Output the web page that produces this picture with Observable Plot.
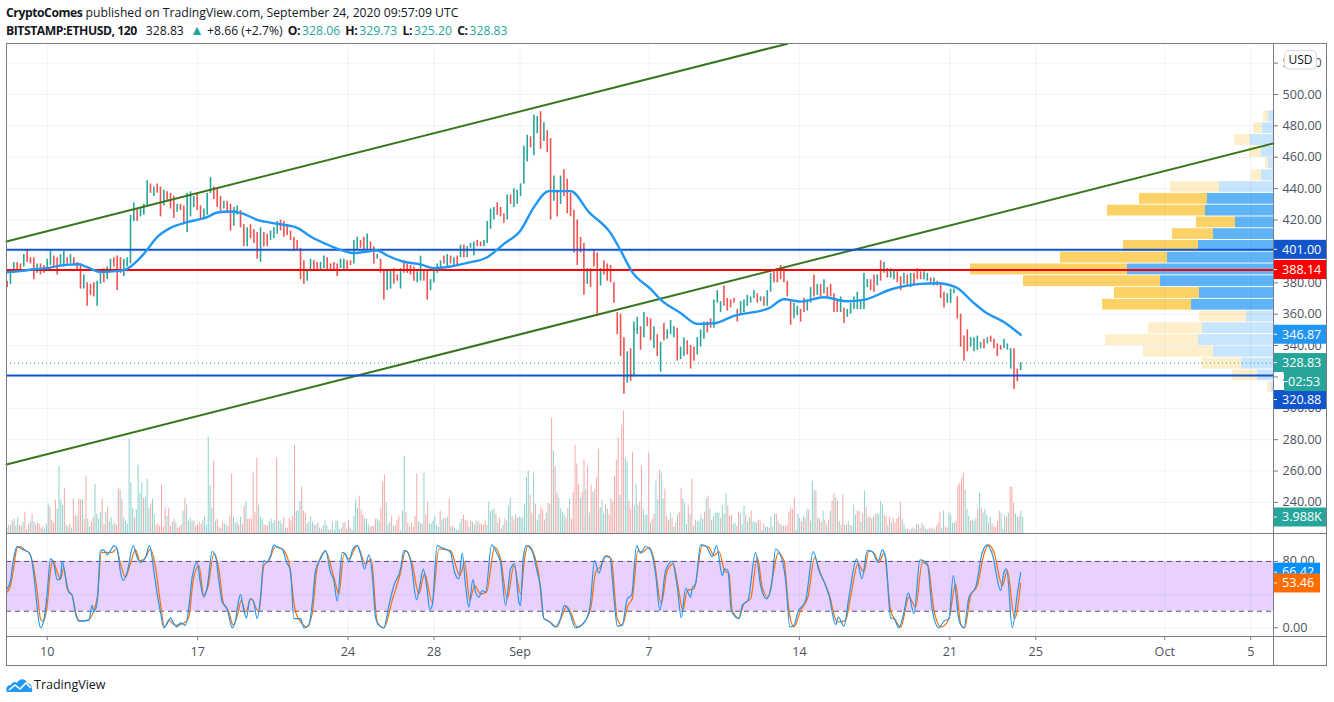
<!DOCTYPE html>
<html><head><meta charset="utf-8">
<script src="https://cdn.jsdelivr.net/npm/d3@7"></script>
<script src="https://cdn.jsdelivr.net/npm/@observablehq/plot@0.6"></script>
<style>
html,body{margin:0;background:#fff}
#page{position:relative;width:1334px;height:702px;overflow:hidden;font-family:"Open Sans",sans-serif;color:#131722}
#page svg{position:absolute;left:0;background:transparent}
.head{position:absolute;left:6px;font-size:12.2px;white-space:nowrap;line-height:16px}
.head b{font-weight:700;letter-spacing:-0.45px}
.teal{color:#26a69a}
.line{position:absolute;background:#787b86}
.lab{margin-left:2px}
.val{margin-left:2px}
</style></head><body><div id="page"></div>
<script>
// ---- time axis ----
const viewStart = "2020-08-08T02:34Z", viewEnd = "2020-10-06T01:26Z";
const dateTicks = ["2020-08-10","2020-08-17","2020-08-24","2020-08-28","2020-09-01","2020-09-07","2020-09-14","2020-09-21","2020-09-25","2020-10-01","2020-10-05"];
const dateLabels = ["10","17","24","28","Sep","7","14","21","25","Oct","5"];
// ---- price bars, read roughly every 3.7 hours ----
const barFirst = "2020-08-08T03:17Z", barStepHours = 3.723;
const barLow = [377,379,386,387,387,390,393,392,382,386,385,386,389,391,390,385,391,390,391,392,391,388,376,376,365,372,371,365,379,380,382,388,390,375,386,384,390,392,419,419,422,423,429,437,435,437,422,429,432,427,421,425,426,417,412,422,428,426,420,421,423,437,433,428,424,427,424,413,416,423,415,403,403,408,405,395,393,403,403,407,408,411,413,409,410,407,400,401,382,379,381,387,388,388,388,389,388,388,388,384,
389,388,388,391,392,401,402,401,401,400,392,395,386,369,375,376,379,381,376,386,386,385,381,380,381,381,369,375,380,386,388,392,390,392,390,391,396,396,396,402,397,403,403,403,405,414,420,423,422,418,420,430,428,430,435,443,457,466,461,475,465,470,463,420,432,422,430,435,424,422,399,391,399,372,379,377,390,360,378,385,381,380,367,347,333,309,316,317,320,347,337,345,352,343,338,333,323,343,344,347,345,330,
331,333,334,325,330,334,339,344,348,351,351,367,361,365,362,364,367,355,360,361,365,367,370,367,368,365,365,374,380,380,382,380,371,353,357,359,355,361,362,367,371,372,371,373,370,371,361,361,361,354,358,360,363,363,363,363,377,375,374,378,381,386,383,383,382,380,375,379,378,377,378,382,382,382,381,380,378,378,370,364,367,367,373,357,339,330,336,339,336,337,338,338,341,342,338,333,337,338,337,325,312,317,324];
const barHigh = [381,386,393,393,392,398,401,396,396,392,392,391,395,401,397,396,398,400,396,398,396,393,392,385,380,379,380,381,387,389,390,395,396,397,396,395,396,423,431,427,428,430,445,443,441,443,441,439,438,437,435,430,430,429,437,438,435,437,429,427,437,447,441,440,435,432,432,430,428,429,426,417,415,417,414,412,415,412,411,413,415,419,420,419,417,413,409,407,402,394,388,395,394,393,393,397,396,392,393,392,
395,395,394,394,407,409,407,409,411,406,403,398,395,388,388,388,389,385,389,394,392,391,390,387,397,388,388,382,389,392,394,397,398,397,396,397,404,404,403,405,406,407,406,407,419,427,428,431,428,424,436,436,440,439,443,467,474,473,487,486,489,482,477,472,448,439,448,452,446,437,426,420,409,405,389,389,401,399,389,394,392,391,380,361,360,345,336,338,355,358,352,361,358,357,352,347,342,354,350,356,352,351,
339,345,343,340,339,345,350,355,355,357,369,375,368,378,370,369,370,363,368,369,372,371,375,373,371,371,375,386,388,389,391,389,381,369,367,365,363,370,369,377,385,379,379,382,377,379,373,369,371,364,363,367,371,374,369,386,382,382,385,385,394,393,389,389,388,387,384,386,385,386,386,389,387,387,386,383,383,381,380,374,373,376,376,371,360,346,350,345,345,346,342,344,345,346,344,341,340,344,341,338,338,325,329];
const barDir = "rttrrtrrrtrrttrrttrtrrrtrrrttrttrrrttttrtttrtrrtrrrtrrtttrrtttrrrtrrttrrtrrrtrrtttrrrrrrrrttrrttrrrr"
 + "ttrrttrrtrrtrrttrrtrrrrttrrttttrtrtrtrtttrrttttrrrtrtttttrttrtrrtrtrrrrrrrtrrrtrrrrrrrtrttrtrrtrtrtttr"
 + "ttrrrtttrrtttrrrrrtttttrtrttrrrrrrttrrttrtrtrrrrtrtttttttrrtrtrttrrtrtrrrttrtrrrtttrrrrttttrtrrrrtttrrtt";
// ---- 50-period average: bar position and price ----
const maBar = [0,4,8,12,15,18,21.5,24,28,33,36,41,45,49,54,60,63,67,70,75,81,87,91,96,100,104,111,114,119,124,128,133,138,144,149,154,158,162.5,169,174.5,181,184,187.5,193,196,202,207,212,218,228.5,233,238,245,252,257,265,274,279,284.5,290,293,299.5,304];
const maPrice = [386.7,387.4,388.6,389.3,390.6,391.4,391.8,389.9,386.9,387.4,388.9,398.4,409.1,415,418.6,421.8,424.8,425.4,424.6,420.1,417.6,415,409.5,404.4,401,398.9,400.6,397.4,393.4,391.7,389.3,390.4,392.7,396.3,404.8,413.3,428.2,438.4,438.4,425,411.6,400.6,386.8,376.1,369.3,360.8,353.8,354.2,358.9,363.8,369.5,368,370.8,368.2,369.1,375.7,379.3,379.7,377.2,367,361.9,354.2,346.87];
// ---- drawn levels ----
const levelBlue = [401, 320.88], levelRed = [388.14], lastPrice = 328.83;
const trendUpperDate = [viewStart, "2020-09-13T10:48Z"], trendUpperPrice = [406.3, 532.4];
const trendLowerDate = [viewStart, viewEnd], trendLowerPrice = [264.2, 468.8];
const priceTicks = [520,500,480,460,440,420,400,380,360,340,320,300,280,260,240];
// ---- volume profile by price row ----
const profilePrice = [486,478.5,471,463.5,456,448.5,441,433.5,426,418.5,411,403.5,396,388.5,381,373.5,366,358.5,351,343.5,336,328.5,321,313.5];
const profileUp = [5,11,23,12,5,12,54,66,68,38,60,75,106,146,113,74,82,27,71,75,60,32,16,2];
const profileDown = [5,9,16,12,3,10,49,68,98,39,41,75,107,157,137,85,89,47,54,93,70,40,25,4];
const valueAreaLow = 362, valueAreaHigh = 437;
// ---- volume in twelfths of a thousand; sign is the bar direction ----
const volumeFirst = "2020-08-08T03:00Z", volumeLast = "2020-09-24T09:20Z", volumePerK = 12;
const volumeSigned = [16,-25,25,37,-43,22,46,-24,-20,34,-64,-12,-27,34,-58,36,-25,-31,-28,16,-19,13,28,88,-79,-40,-31,-100,73,202,100,85,-136,25,19,-28,16,-103,-55,52,-103,-100,103,-43,-172,43,19,-34,-49,148,58,43,64,-103,-27,64,-79,34,49,25,-31,-25,-136,130,-103,46,37,28,283,151,76,-46,70,205,121,151,-106,109,163,76,-88,103,58,-25,-28,-22,-145,-19,-73,52,-76,-22,34,-43,31,-16,-19,-25,67,-106,85,37,46,-37,37,-22,-25,-34,-28,37,52,25,289,145,76,-217,37,-43,-19,16,-34,28,25,-22,-52,-178,49,31,34,-25,49,-28,-82,94,-43,-43,-43,-181,-64,-226,85,49,43,-25,-25,-22,34,43,31,40,-226,37,37,28,-49,16,-16,-46,-37,-52,-265,67,67,97,-139,-67,-61,28,34,49,34,-25,25,-31,16,-13,22,37,22,-10,-10,34,10,37,37,10,-16,31,-34,-13,-40,16,-10,52,100,76,-112,-70,-55,43,43,28,-19,-22,-22,-43,43,37,-76,-154,-175,91,28,34,-52,22,-22,-40,-52,7,67,232,-64,-31,19,-31,-19,-52,-178,34,31,-28,181,-55,-94,28,28,37,52,25,19,-67,40,46,-43,49,-103,19,-22,16,10,10,31,43,-55,-40,-37,19,-37,34,25,-37,34,-28,-28,-25,-37,25,94,64,70,73,-58,31,-46,-13,25,-43,37,82,106,-52,-40,55,-46,49,46,
49,88,169,187,-115,-61,181,-88,40,58,-79,-70,-40,61,-91,88,-346,247,-202,-121,106,73,64,55,-46,-76,103,-43,-124,-265,-208,-148,106,-124,-220,133,-202,61,-145,124,-133,-166,-253,76,100,61,-85,73,-55,-103,-94,-172,-220,-286,115,-325,-367,223,214,-97,-73,-244,82,148,85,-94,-202,73,55,55,-241,31,-43,-58,157,100,-190,181,103,-133,-52,-40,61,-46,19,-31,55,-64,-136,103,91,28,-82,58,-163,22,-40,34,37,55,43,-64,103,-112,73,-40,49,61,61,61,-46,82,58,118,-82,-52,-55,28,31,-22,-64,58,25,82,-55,34,49,-67,34,34,31,-40,-37,10,-28,19,19,-16,49,19,58,-58,37,-28,22,-22,-22,-25,-64,-76,-73,-106,10,58,46,-34,52,-46,73,-70,37,157,130,-127,46,-43,-34,67,-40,25,-40,67,-97,-118,106,-97,37,-25,-115,25,-25,37,-25,22,85,55,-67,-67,34,-58,127,-79,49,-49,-43,49,-58,58,58,97,85,-55,-52,25,-49,31,-46,-31,-43,-49,-94,43,25,13,-13,-10,13,-16,13,28,-25,-16,31,-22,13,10,-16,13,-16,10,-22,-31,-64,16,67,-19,-16,61,55,31,31,-37,-145,-151,-166,-181,130,73,52,-37,40,37,46,-73,121,-76,61,73,55,-31,49,-28,-19,-19,-37,-67,61,13,55,-49,61,-139,-139,-91,58,49,-52,67,48];
// ---- stochastic RSI: bar position and value ----
const stochKBar = [0,1,2,3,4,5,6.5,7.5,8.5,9.2,10,11,12,13,14,15,16,16.5,17.5,18.5,19.5,20.5,21.5,24.5,25.5,26,27,28,29,30,31,32,33,34,34.8,36,37.8,39,40,41.5,42.7,44,45,46,47,48,49,50,51,52,53.5,54.5,55.5,57,58,59,60,61.5,62.5,63.5,64.5,66,67.5,68.5,69.2,70,71,71.8,72.8,73.8,75,76,77,78,79,80,81,82.5,83.8,85,86,88,89,90.5,91.5,92.5,94,95.5,97,98,99,100.5,101.5,102.5,103.5,105,106,107.2,108.5,109.5,110.5,111.5,113,114.5,116,118,119,120,121.2,122.8,123.8,124.8,125.8,126.8,127.5,129,130,131.5,133,134.2,135.5,136.5,137.5,138.5,139.7,140.5,141.5,142.5,143.5,145.3,147,148,149.5,151,152.2,153.5,
154,154.8,155.8,157.5,159,160,161,162.5,164.5,165.8,167.2,168.5,170.5,173.5,174.8,176.2,177.5,179.2,180.8,182,183,184.5,186,187.3,188.8,190,191.5,192.8,194.5,195.8,197.5,199.5,201,202.2,203.5,205,205.5,206.5,208,209.5,211.5,212.8,214.5,215.2,216.2,217.2,219.5,220.5,222.2,224.5,226,227.8,229.2,230.5,232.5,233.5,234.8,236,237.2,239.5,241.8,243.5,245.5,246.5,248.5,249.3,251,252.5,254.8,256.4,258,259.5,261.2,262.5,263.5,265,266,267.5,269,270.3,272,273.8,276,277.5,279.5,281,282.5,283.8,285.5,287,288.5,290.5,292.5,294,295.5,298,299,299.8,301.5,303,304];
const stochK = [47,57,85,98,96,94,91,79,45,17,0,9,41,83,77,58,59,80,61,43,39,17,8,9,27,19,31,93,94,88,93,99,95,67,57,67,99,85,79,85,99,69,41,19,0,5,12,5,1,6,3,25,61,79,53,37,49,92,87,57,31,23,0,9,28,40,21,12,35,33,11,37,81,79,87,100,97,95,79,69,11,11,0,3,29,69,83,93,67,57,32,91,89,79,93,99,89,71,88,65,13,3,0,27,51,71,93,92,77,34,51,71,51,22,27,99,97,95,91,67,59,90,51,25,58,43,37,45,43,100,89,79,27,71,77,31,
27,85,99,92,67,49,11,8,1,9,27,21,0,9,25,81,66,86,85,37,2,3,35,39,99,90,98,95,65,21,69,80,49,12,48,37,48,53,100,99,86,99,63,71,69,21,11,27,33,91,51,35,49,95,81,57,1,3,19,33,92,69,51,39,4,13,2,37,83,59,93,92,79,94,85,12,11,0,19,42,17,82,77,21,0,8,11,63,9,0,37,49,91,100,89,45,67,71,0,41,66.42];
const stochDBar = [0,1,2,3,4,5.5,6.5,7.5,9,10,10.8,12,13,13.8,15,16,17,18,19.5,20.8,22,24.5,26,27.2,28.2,30,31.5,32.8,34,35.5,36.8,38.5,39.8,41.2,43,44.5,46,47.2,48.5,50.5,53.2,54.5,55.8,57.5,59,60.2,62,63.5,64.8,66.5,67.8,69.2,70.2,71.5,73.2,75.5,77,78.5,80.5,82.5,84.5,86.5,88.5,89.8,91.5,93,95.5,98,99.5,101,102.5,105,107.5,109.2,111,113,115.5,118,119.5,121.5,123.5,125.2,127.5,129.5,133,135.8,137.2,138.8,140.2,142,143.8,146.2,148,150,152,
154,155.2,156.2,158,159.5,161,162.5,164.8,166.5,167.8,169,171,173.8,175.2,176.5,177.8,179.8,181.2,183,184.5,186.2,187.5,189.2,190.5,192.5,194,196.2,198,199.8,201.2,202.7,204,206,208.5,210.5,212,213.5,215.2,216.5,217.5,219.5,221,223,225,226.5,228.2,229.8,231.2,233,234.5,236,238,240.2,242.2,244,246.5,249,251.5,253,255.2,257,258.5,260.2,261.5,263,265,266.5,268,270.5,272.5,274.5,276.2,278,280.2,282.5,284.5,286,287.2,289,291,293,294.5,296,298.5,300,302.2,304];
const stochD = [43,51,73,97,98,93,91,81,45,11,8,27,69,81,67,59,73,47,39,15,8,10,21,41,91,91,91,95,77,61,75,94,81,83,95,73,29,1,9,3,6,13,57,75,39,49,89,71,31,19,3,17,33,19,35,19,75,81,98,95,79,19,5,1,17,73,92,61,41,89,83,99,77,83,7,0,33,67,93,77,41,65,31,95,93,63,79,33,51,41,43,97,83,35,75,
41,83,99,89,63,11,8,1,15,26,19,1,11,27,67,73,87,83,11,3,27,35,93,91,97,83,29,69,77,51,21,45,47,99,97,87,92,69,65,21,12,29,35,85,49,37,65,90,81,21,1,21,37,85,65,41,7,9,37,77,67,93,89,79,90,21,9,1,37,25,79,75,21,1,11,53,5,0,39,51,89,100,91,51,69,11,53.46];
const stochTicks = [0,80], stochGrid = [0,40,80], stochBand = [20,80];

// ---- value tags on the right scale ----
const priceTags = [
 {value:401, dy:0, text:"401.00", fill:"#1155cc"},
 {value:388.14, dy:0, text:"388.14", fill:"#ff0000"},
 {value:346.87, dy:0, text:"346.87", fill:"#2196f3"},
 {value:320.88, dy:24.5, text:"320.88", fill:"#1155cc"},
 {value:328.83, dy:0, text:"328.83", fill:"#26a69a"}
];
const stochTags = [{value:66.42,text:"66.42",fill:"#0091ff"},{value:53.46,text:"53.46",fill:"#ff6d00"}];
const volumeTag = {value:48, text:"3.988K", fill:"#26a69a"};

const FONT = '"Open Sans",sans-serif', AXIS_SIZE = 12.6;
const page = document.getElementById("page");
const d = s => new Date(s);
const barTime = b => new Date(+d(barFirst) + b * barStepHours * 3600e3);
const xDomain = [d(viewStart), d(viewEnd)];
const GRID = {stroke:"#4060c0", strokeOpacity:0.08};
const PANEW = {width:1334, marginLeft:6, marginRight:61, marginTop:0, style:{fontFamily:FONT, fontSize:AXIS_SIZE+"px", background:"transparent", color:"#4c525e"}};

const bars = barLow.map((low,i)=>({date:barTime(i), low, high:barHigh[i], up:barDir[i]!=="r"}));
const ma = maBar.map((b,i)=>({date:barTime(b), price:maPrice[i]}));
const trendU = trendUpperDate.map((t,i)=>({date:d(t), price:trendUpperPrice[i]}));
const trendL = trendLowerDate.map((t,i)=>({date:d(t), price:trendLowerPrice[i]}));
const vStep = (+d(volumeLast)-+d(volumeFirst))/(volumeSigned.length-1);
const vols = volumeSigned.map((v,i)=>({date:new Date(+d(volumeFirst)+i*vStep), v:Math.abs(v), up:v>0}));
const prof = profilePrice.map((p,i)=>({p, up:profileUp[i], tot:profileUp[i]+profileDown[i], main:p>valueAreaLow&&p<valueAreaHigh}));
const priceDomain = [220.2,532.5];
const MAINH = 490;

function place(svg, top){ svg.style.top = top+"px"; page.appendChild(svg); return svg; }
function addTag(svg, y, t, w, x0){
  const g = d3.select(svg).append("g");
  g.append("rect").attr("x",x0).attr("y",y-9.5).attr("width",w).attr("height",19).attr("fill",t.fill);
  g.append("line").attr("x1",x0).attr("x2",x0+4).attr("y1",y).attr("y2",y).attr("stroke","#fff");
  g.append("text").attr("x",t.tx||1282).attr("y",y).attr("dy","0.34em").attr("fill","#fff").attr("text-anchor","start")
    .attr("font-family",FONT).attr("font-size",AXIS_SIZE).text(t.text);
}

// volume profile
place(Plot.plot({...PANEW, height:MAINH, marginBottom:0,
  x:{domain:[1267,0], axis:null}, y:{domain:priceDomain, axis:null},
  marks:[
    Plot.rectX(prof,{filter:d=>d.main, x1:d=>d.up, x2:d=>d.tot, y1:d=>d.p-3.45, y2:d=>d.p+3.45, fill:"#fbc02d", fillOpacity:.72}),
    Plot.rectX(prof,{filter:d=>d.main, x1:0, x2:d=>d.up, y1:d=>d.p-3.45, y2:d=>d.p+3.45, fill:"#2196f3", fillOpacity:.72}),
    Plot.rectX(prof,{filter:d=>!d.main, x1:d=>d.up, x2:d=>d.tot, y1:d=>d.p-3.45, y2:d=>d.p+3.45, fill:"#fbc02d", fillOpacity:.25}),
    Plot.rectX(prof,{filter:d=>!d.main, x1:0, x2:d=>d.up, y1:d=>d.p-3.45, y2:d=>d.p+3.45, fill:"#2196f3", fillOpacity:.25})
  ]}), 43);

// volume
const volPlot = Plot.plot({...PANEW, height:MAINH, marginBottom:0,
  x:{type:"utc", domain:xDomain, axis:null}, y:{domain:[0,MAINH/4*volumePerK], axis:null},
  marks:[
    Plot.ruleX(vols,{filter:d=>d.up, x:"date", y1:0, y2:"v", stroke:"#26a69a", strokeOpacity:.5, strokeWidth:1}),
    Plot.ruleX(vols,{filter:d=>!d.up, x:"date", y1:0, y2:"v", stroke:"#ef5350", strokeOpacity:.5, strokeWidth:1})
  ]});
place(volPlot, 43);

// price pane
const mainPlot = Plot.plot({...PANEW, height:MAINH, marginBottom:0,
  x:{type:"utc", domain:xDomain, axis:null}, y:{domain:priceDomain},
  marks:[
    Plot.gridY(priceTicks,GRID),
    Plot.gridX(dateTicks.map(d),GRID),
    Plot.axisY(priceTicks,{anchor:"right", label:null, tickSize:4, tickPadding:5, tickFormat:v=>v.toFixed(2), stroke:"#787b86", fill:"#4c525e"}),
    Plot.ruleY([lastPrice],{stroke:"#26a69a", strokeDasharray:"1,3", strokeWidth:1}),
    Plot.ruleX(bars,{filter:d=>d.up, x:"date", y1:"low", y2:"high", stroke:"#26a69a", strokeWidth:1.6}),
    Plot.ruleX(bars,{filter:d=>!d.up, x:"date", y1:"low", y2:"high", stroke:"#ef5350", strokeWidth:1.6}),
    Plot.line(trendU,{x:"date", y:"price", stroke:"#38761d", strokeWidth:2}),
    Plot.line(trendL,{x:"date", y:"price", stroke:"#38761d", strokeWidth:2}),
    Plot.ruleY(levelBlue,{stroke:"#1155cc", strokeWidth:2}),
    Plot.ruleY(levelRed,{stroke:"#ff0000", strokeWidth:2}),
    Plot.line(ma,{x:"date", y:"price", stroke:"#2196f3", strokeWidth:2.4, curve:"monotone-x"})
  ]});
place(mainPlot, 43);
const yPrice = mainPlot.scale("y"), xRight = 1273;
priceTags.forEach(t=>addTag(mainPlot, yPrice.apply(t.value)+t.dy, t, 53, xRight));
// countdown tag under last price
{ const y = yPrice.apply(lastPrice)+19;
  addTag(mainPlot, y, {text:"02:53", fill:"#26a69a", tx:1288}, 42, 1284);
}
// volume tag sits on top of the price axis
{ const vy = volPlot.scale("y").apply(volumeTag.value);
  addTag(mainPlot, vy, volumeTag, 54, xRight);
}
// USD button
{ const g = d3.select(mainPlot).append("g");
  g.append("rect").attr("x",1284.5).attr("y",7.5).attr("width",32).attr("height",18.5).attr("rx",4).attr("fill","#fff").attr("stroke","#d6d8e4");
  g.append("text").attr("x",1300.5).attr("y",17).attr("dy","0.34em").attr("text-anchor","middle").attr("fill","#131722").attr("font-family",FONT).attr("font-size",12).text("USD");
}

// stochastic pane + time axis
const stochPlot = Plot.plot({...PANEW, height:131, marginBottom:29,
  x:{type:"utc", domain:xDomain}, y:{domain:[-10.5,112.5]},
  marks:[
    Plot.rectY([0],{x1:xDomain[0], x2:xDomain[1], y1:stochBand[0], y2:stochBand[1], fill:"#e8d0ff"}),
    Plot.gridY(stochGrid,GRID),
    Plot.gridX(dateTicks.map(d),GRID),
    Plot.ruleY(stochBand,{stroke:"#5d4a70", strokeDasharray:"5,4", strokeWidth:1}),
    Plot.axisY(stochTicks,{anchor:"right", label:null, tickSize:4, tickPadding:5, tickFormat:v=>v.toFixed(2), stroke:"#787b86", fill:"#4c525e"}),
    Plot.axisX(dateTicks.map(d),{anchor:"bottom", label:null, tickSize:4, tickPadding:7, tickFormat:(v,i)=>dateLabels[dateTicks.findIndex(t=>+d(t)===+v)], stroke:"#787b86", fill:"#4c525e"}),
    Plot.line(stochDBar.map((b,i)=>({date:barTime(b), v:stochD[i]})),{x:"date", y:"v", stroke:"#ff6d00", strokeWidth:1.2, curve:"monotone-x"}),
    Plot.line(stochKBar.map((b,i)=>({date:barTime(b), v:stochK[i]})),{x:"date", y:"v", stroke:"#2196f3", strokeWidth:1.2, curve:"monotone-x"})
  ]});
place(stochPlot, 534);
stochTags.forEach(t=>addTag(stochPlot, stochPlot.scale("y").apply(t.value), t, 47, xRight));

// frame
[[6,43,1320,1],[6,665,1320,1],[6,533,1320,1],[6,636,1320,1]].forEach(([l,t,w,h])=>{
  const e=document.createElement("div"); e.className="line"; e.style.cssText+=`left:${l}px;top:${t}px;width:${w}px;height:${h}px`; page.appendChild(e);});
[[6,43,622],[1273,43,622],[1326,43,623]].forEach(([l,t,h])=>{
  const e=document.createElement("div"); e.className="line"; e.style.cssText+=`left:${l}px;top:${t}px;width:1px;height:${h}px`; page.appendChild(e);});

// header
const h1=document.createElement("div"); h1.className="head"; h1.style.top="5px";
h1.innerHTML='<b>CryptoComes</b> published on TradingView.com, September 24, 2020 09:57:09 UTC';
const h2=document.createElement("div"); h2.className="head"; h2.style.top="22px";
h2.innerHTML='<b>BITSTAMP:ETHUSD, 120</b><span style="margin-left:9px">328.83</span> <span class="teal" style="font-size:14px;margin-left:3px">▲</span> +8.66 (+2.7%) <b class="lab">O:</b><span class="teal val">328.06</span> <b class="lab">H:</b><span class="teal val">329.73</span> <b class="lab">L:</b><span class="teal val">325.20</span> <b class="lab">C:</b><span class="teal val">328.83</span>';
page.append(h1,h2);

// logo
const logo=document.createElement("div"); logo.style.cssText="position:absolute;left:6px;top:676px;height:17px;display:flex;align-items:center;font-size:12.5px;color:#131722";
logo.innerHTML='<svg style="position:static;margin-right:1px" width="27" height="16" viewBox="0 0 27 16"><path d="M1 15 C-1 12 1 8 5 8 C6 5 9 4 11 6 C13 1 20 1 21 6 C25 6 27 11 26 15 Z" fill="#2196f3"/><path d="M3 13 L9 8 L14 12 L20 6 L25 11" fill="none" stroke="#fff" stroke-width="1.6"/></svg>TradingView';
page.appendChild(logo);
</script></body></html>
